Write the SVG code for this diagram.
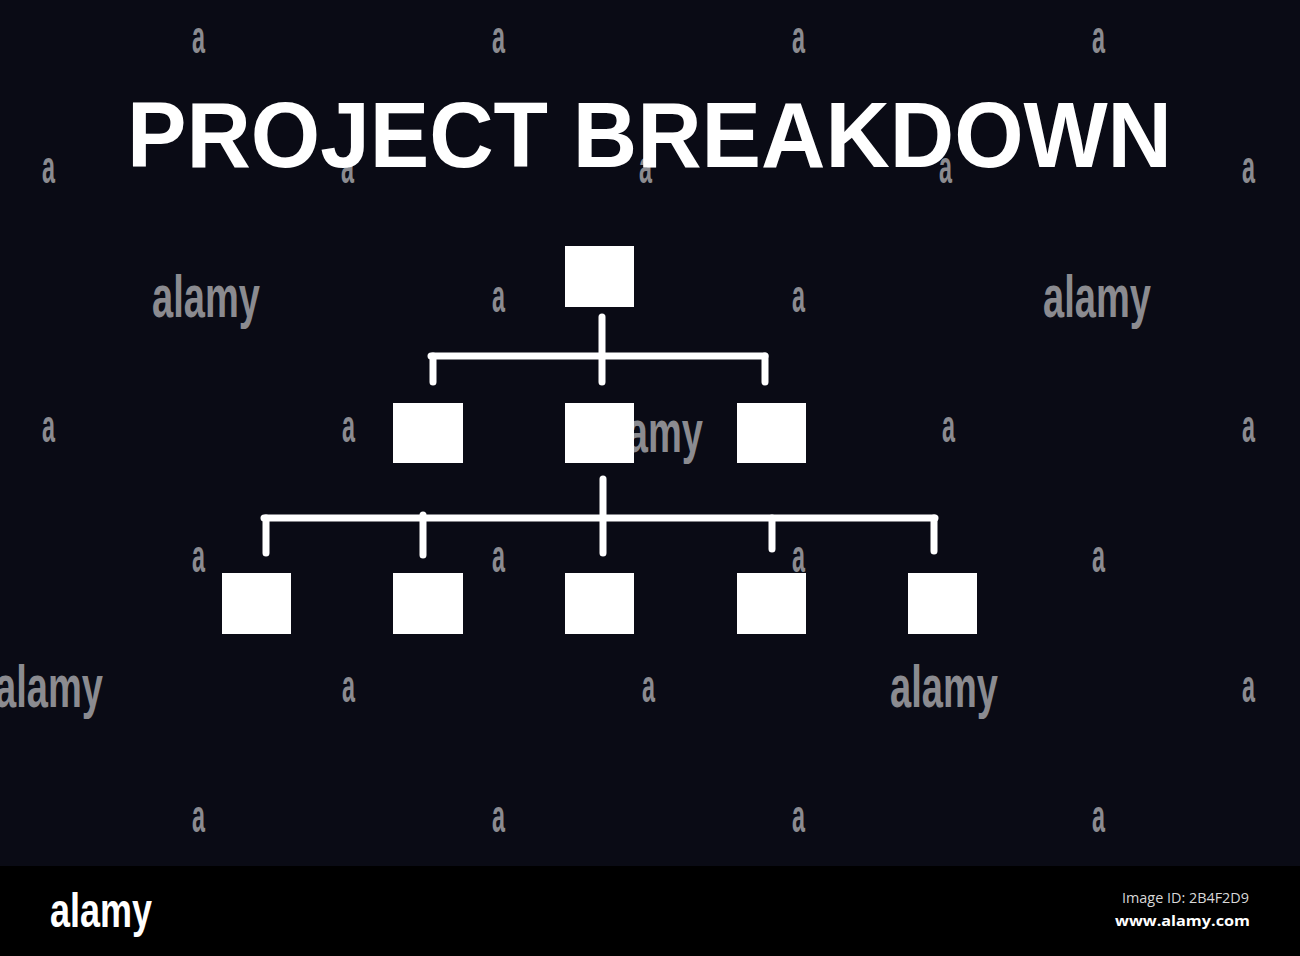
<svg xmlns="http://www.w3.org/2000/svg" width="1300" height="956" viewBox="0 0 1300 956">
<defs>
<style>
.bg{fill:#0a0b15}
.node{fill:#ffffff}
.conn{stroke:#ffffff;stroke-width:7;stroke-linecap:round;fill:none}
.title{font-family:"Liberation Sans",Arial,sans-serif;font-weight:bold;font-size:93px;fill:#ffffff}
.wm{font-family:"Liberation Sans Narrow","Liberation Sans",Arial,sans-serif;font-weight:bold;font-size:60px;fill:#8b8b90}
.wa{font-family:"Liberation Sans Narrow","Liberation Sans",Arial,sans-serif;font-weight:bold;font-size:46px;fill:#8b8b90}
.logo{font-family:"Liberation Sans Narrow","Liberation Sans",Arial,sans-serif;font-weight:bold;font-size:49px;fill:#ffffff}
.small{font-family:"Open Sans","Liberation Sans",Arial,sans-serif;font-size:14px;fill:#d8d8d8}
.url{font-family:"Open Sans","Liberation Sans",Arial,sans-serif;font-weight:bold;font-size:15px;fill:#ffffff}
</style>
</defs>
<rect class="bg" x="0" y="0" width="1300" height="866"/>
<rect x="0" y="866" width="1300" height="90" fill="#000000"/>

<g id="watermarks">
<text class="wm" x="152" y="317" textLength="108" lengthAdjust="spacingAndGlyphs">alamy</text>
<text class="wm" x="1043" y="317" textLength="108" lengthAdjust="spacingAndGlyphs">alamy</text>
<text class="wm" x="595" y="452" textLength="108" lengthAdjust="spacingAndGlyphs">alamy</text>
<text class="wm" x="-5" y="707" textLength="108" lengthAdjust="spacingAndGlyphs">alamy</text>
<text class="wm" x="890" y="707" textLength="108" lengthAdjust="spacingAndGlyphs">alamy</text>
<g class="wa">
<text x="192" y="53" textLength="13" lengthAdjust="spacingAndGlyphs">a</text>
<text x="492" y="53" textLength="13" lengthAdjust="spacingAndGlyphs">a</text>
<text x="792" y="53" textLength="13" lengthAdjust="spacingAndGlyphs">a</text>
<text x="1092" y="53" textLength="13" lengthAdjust="spacingAndGlyphs">a</text>
<text x="42" y="183" textLength="13" lengthAdjust="spacingAndGlyphs">a</text>
<text x="341" y="183" textLength="13" lengthAdjust="spacingAndGlyphs">a</text>
<text x="639" y="183" textLength="13" lengthAdjust="spacingAndGlyphs">a</text>
<text x="939" y="183" textLength="13" lengthAdjust="spacingAndGlyphs">a</text>
<text x="1242" y="183" textLength="13" lengthAdjust="spacingAndGlyphs">a</text>
<text x="492" y="312" textLength="13" lengthAdjust="spacingAndGlyphs">a</text>
<text x="792" y="312" textLength="13" lengthAdjust="spacingAndGlyphs">a</text>
<text x="42" y="442" textLength="13" lengthAdjust="spacingAndGlyphs">a</text>
<text x="342" y="442" textLength="13" lengthAdjust="spacingAndGlyphs">a</text>
<text x="942" y="442" textLength="13" lengthAdjust="spacingAndGlyphs">a</text>
<text x="1242" y="442" textLength="13" lengthAdjust="spacingAndGlyphs">a</text>
<text x="192" y="572" textLength="13" lengthAdjust="spacingAndGlyphs">a</text>
<text x="492" y="572" textLength="13" lengthAdjust="spacingAndGlyphs">a</text>
<text x="792" y="572" textLength="13" lengthAdjust="spacingAndGlyphs">a</text>
<text x="1092" y="572" textLength="13" lengthAdjust="spacingAndGlyphs">a</text>
<text x="342" y="702" textLength="13" lengthAdjust="spacingAndGlyphs">a</text>
<text x="642" y="702" textLength="13" lengthAdjust="spacingAndGlyphs">a</text>
<text x="1242" y="702" textLength="13" lengthAdjust="spacingAndGlyphs">a</text>
<text x="192" y="832" textLength="13" lengthAdjust="spacingAndGlyphs">a</text>
<text x="492" y="832" textLength="13" lengthAdjust="spacingAndGlyphs">a</text>
<text x="792" y="832" textLength="13" lengthAdjust="spacingAndGlyphs">a</text>
<text x="1092" y="832" textLength="13" lengthAdjust="spacingAndGlyphs">a</text>
</g>
</g>

<text id="title" class="title" x="127" y="167" textLength="1045" lengthAdjust="spacingAndGlyphs">PROJECT BREAKDOWN</text>

<g id="connectors">
<path class="conn" d="M602 317 V382"/>
<path class="conn" d="M431 356 H765"/>
<path class="conn" d="M433 356 V382"/>
<path class="conn" d="M765 356 V382"/>
<path class="conn" d="M603 479 V553"/>
<path class="conn" d="M264 518 H935"/>
<path class="conn" d="M266 518 V553"/>
<path class="conn" d="M423 515 V555"/>
<path class="conn" d="M772 518 V549"/>
<path class="conn" d="M934 518 V551"/>
</g>

<g id="node-root"><rect class="node" x="565" y="246" width="69" height="61"/></g>
<g id="node-l2-1"><rect class="node" x="393" y="403" width="70" height="60"/></g>
<g id="node-l2-2"><rect class="node" x="565" y="403" width="69" height="60"/></g>
<g id="node-l2-3"><rect class="node" x="737" y="403" width="69" height="60"/></g>
<g id="node-l3-1"><rect class="node" x="222" y="573" width="69" height="61"/></g>
<g id="node-l3-2"><rect class="node" x="393" y="573" width="70" height="61"/></g>
<g id="node-l3-3"><rect class="node" x="565" y="573" width="69" height="61"/></g>
<g id="node-l3-4"><rect class="node" x="737" y="573" width="69" height="61"/></g>
<g id="node-l3-5"><rect class="node" x="908" y="573" width="69" height="61"/></g>

<g id="footer">
<text class="logo" x="50" y="927" textLength="102" lengthAdjust="spacingAndGlyphs">alamy</text>
<text class="small" x="1122" y="903" textLength="127" lengthAdjust="spacingAndGlyphs">Image ID: 2B4F2D9</text>
<text class="url" x="1115" y="926" textLength="135" lengthAdjust="spacingAndGlyphs">www.alamy.com</text>
</g>
</svg>
